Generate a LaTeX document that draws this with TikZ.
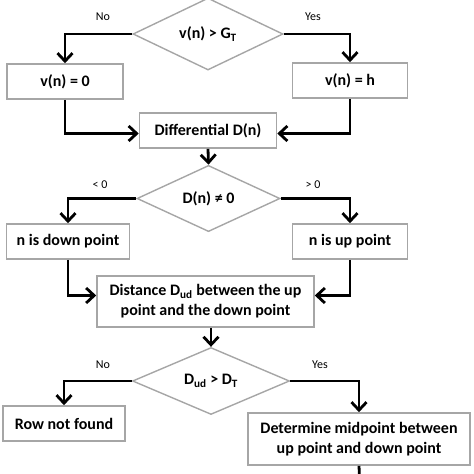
\documentclass[tikz,border=0pt]{standalone}
\usepackage{fontspec}
\setmainfont{Carlito}
\usetikzlibrary{shapes.geometric,arrows.meta}
\definecolor{boxgray}{HTML}{A6A6A6}
\tikzset{
  box/.style={draw=boxgray,line width=1.6pt,fill=white,align=center,inner sep=2pt,
    font=\fontsize{16}{20}\selectfont\bfseries},
  decision/.style={diamond,draw=boxgray,line width=1.4pt,fill=white,inner sep=0pt,
    font=\fontsize{16}{20}\selectfont\bfseries},
  arr/.style={line width=2.8pt,-{Straight Barb[length=8pt,width=15pt,line width=2.8pt]}},
  lbl/.style={font=\fontsize{12}{14}\selectfont}
}
\begin{document}
\begin{tikzpicture}[x=1pt,y=-1pt]
			\useasboundingbox (0,0) rectangle (474,474);
			\node[decision,minimum width=150,minimum height=58] (vtest) at (208,34) {v(n) > G\textsubscript{T}};
			\node[box,minimum width=116,minimum height=35] (vzero) at (65,81.5) {v(n) = 0};
			\node[box,minimum width=115,minimum height=35] (vh) at (350,80.5) {v(n) = h};
			\node[box,minimum width=137,minimum height=35] (diff) at (208,130.5) {Differential D(n)};
			\node[decision,minimum width=143,minimum height=51] (dtest) at (208.5,198.5) {D(n) ≠ 0};
			\node[box,minimum width=123,minimum height=35] (down) at (68,241.5) {n is down point};
			\node[box,minimum width=115,minimum height=35] (up) at (350,241.5) {n is up point};
			\node[box,minimum width=217,minimum height=51] (dist) at (205.5,301.5) {Distance D\textsubscript{ud} between the up\\point and the down point};
			\node[decision,minimum width=157,minimum height=58] (dudtest) at (211,381) {D\textsubscript{ud} > D\textsubscript{T}};
			\node[box,minimum width=122,minimum height=35] (notfound) at (64,423.5) {Row not found};
			\node[box,minimum width=222,minimum height=52] (mid) at (359,439) {Determine midpoint between\\up point and down point};
			
			\coordinate (in) at (208,-20);
			\coordinate (out) at (360,490);
			\draw[arr] (in) -- (vtest.north);
			\draw[arr] (vtest.west) -| (vzero.north);
			\draw[arr] (vtest.east) -| (vh.north);
			\draw[arr] (vzero.south) |- ([yshift=-3pt]diff.west);
			\draw[arr] (vh.south) |- ([yshift=-3pt]diff.east);
			\draw[arr] (diff.south) -- (dtest.north);
			\draw[arr] (dtest.west) -| (down.north);
			\draw[arr] (dtest.east) -| (up.north);
			\draw[arr] (down.south) |- ([yshift=6pt]dist.west);
			\draw[arr] (up.south) |- ([yshift=6pt]dist.east);
			\draw[arr] (dudtest.north |- dist.south) -- (dudtest.north);
			\draw[arr] (dudtest.west) -| (notfound.north);
			\draw[arr] (dudtest.east) -| (mid.north);
			\draw[line width=2.8pt] (mid.south) -- (out);
			
			\node[lbl] at (103,17) {No};
			\node[lbl] at (313,17) {Yes};
			\node[lbl] at (100,185) {< 0};
			\node[lbl] at (313,185) {> 0};
			\node[lbl] at (103,365) {No};
			\node[lbl] at (320,365) {Yes};
		\end{tikzpicture}
\end{document}
